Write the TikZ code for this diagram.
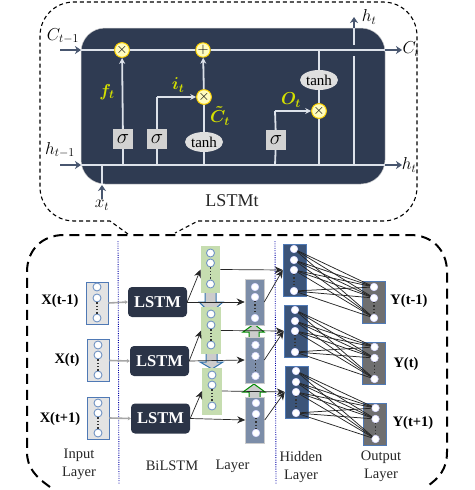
\documentclass[tikz,border=0pt]{standalone}
\usepackage{fontspec}
\setmainfont{Liberation Serif}
\usetikzlibrary{arrows.meta,shapes.geometric}
\definecolor{panel}{HTML}{2F3B52}
\definecolor{wire}{HTML}{DDE2EA}
\definecolor{inarrow}{HTML}{48566F}
\definecolor{ylab}{HTML}{D4E000}
\definecolor{lstmc}{HTML}{2B3447}
\definecolor{bluebd}{HTML}{4F79B5}
\definecolor{fwdc}{HTML}{C6DDB0}
\definecolor{bwdc}{HTML}{7C8DA8}
\definecolor{hidc}{HTML}{3B5479}
\definecolor{outc}{HTML}{6F6F70}
\tikzset{
 wl/.style={draw=wire,line width=1.8pt},
 wa/.style={wl,-{Stealth[length=6pt,width=6pt]}},
 ina/.style={draw=inarrow,line width=2.2pt,-{Stealth[length=6pt,width=8pt]}},
 oper/.style={circle,draw=yellow!70!orange,line width=1pt,fill=yellow!25,minimum size=14pt,inner sep=0pt,font=\fontsize{14}{14}\selectfont},
 sig/.style={draw=none,fill=gray!35,minimum size=20pt,inner sep=0pt,font=\fontsize{20}{20}\selectfont},
 tanhn/.style={ellipse,fill=gray!25,draw=none,minimum width=38pt,minimum height=20pt,inner sep=0pt,font=\fontsize{15}{15}\selectfont},
 mlab/.style={font=\fontsize{18.5}{18.5}\selectfont,inner sep=0pt},
 ylabn/.style={font=\fontsize{18}{18}\selectfont\boldmath,inner sep=0pt,text=ylab},
 capn/.style={font=\fontsize{14.5}{18}\selectfont,inner sep=0pt,align=center,text=black!85},
 blab/.style={font=\fontsize{14.5}{14.5}\selectfont\bfseries,inner sep=0pt},
 lstmn/.style={rounded corners=4pt,fill=lstmc,text=white,minimum width=59pt,minimum height=30pt,inner sep=0pt,font=\fontsize{16.5}{17}\selectfont\bfseries},
 inb/.style={draw=bluebd,line width=.9pt,fill=gray!22,minimum width=22pt,minimum height=42pt,inner sep=0pt},
 fwdb/.style={fill=fwdc,minimum width=19.5pt,minimum height=47pt,inner sep=0pt},
 bwdb/.style={fill=bwdc,draw=gray!40,line width=.5pt,minimum width=19pt,minimum height=46pt,inner sep=0pt},
 hidb/.style={fill=hidc,draw=bluebd,line width=.5pt,minimum width=23pt,minimum height=52pt,inner sep=0pt},
 outb/.style={fill=outc,draw=bluebd,line width=.9pt,minimum width=23pt,minimum height=42pt,inner sep=0pt},
 hol/.style={circle,draw=bluebd!80,line width=.9pt,fill=white,minimum size=8pt,inner sep=0pt},
 sol/.style={circle,draw=blue!15,line width=.6pt,fill=white,minimum size=7.5pt,inner sep=0pt},
 dotsl/.style={line width=1.3pt,dash pattern=on 1.3pt off 2pt,black!80},
 grayc/.style={draw=gray!70,line width=1.6pt,-{Stealth[length=3pt,width=4pt]}},
 bk/.style={draw=black!85,line width=.7pt,-{Stealth[length=8pt,width=7pt]}},
 meshl/.style={draw=black!85,line width=.75pt},
 sepl/.style={draw=blue!65!black,line width=.9pt,dash pattern=on 1pt off 1.3pt},
 bigdash/.style={draw=black,line width=2pt,dash pattern=on 10pt off 6pt},
 smalldash/.style={draw=black,line width=1.1pt,dash pattern=on 4pt off 3pt},
 downa/.style={fill=gray!40,draw=cyan!60!blue!80!black,line width=1pt},
 upa/.style={fill=gray!40,draw=green!55!black,line width=1pt},
}
\begin{document}
\begin{tikzpicture}[x=1pt,y=-1pt]
\useasboundingbox (0,0) rectangle (474,490);
% --- callout outlines
\draw[smalldash] (128,234) -- (110,221) -- (74,221) .. controls (55,221) and (40,206) .. (40,187) -- (40,36) .. controls (40,17) and (55,2) .. (74,2) -- (383,2) .. controls (402,2) and (417,17) .. (417,36) -- (417,187) .. controls (417,206) and (402,221) .. (383,221) -- (198,221) -- (175,233);
\draw[bigdash] (50,487) .. controls (36,477) and (27,468) .. (27,452) -- (27,272) .. controls (27,250) and (42,235) .. (64,235) -- (410,235) .. controls (432,235) and (447,250) .. (447,272) -- (447,452) .. controls (447,468) and (440,478) .. (426,487);
% --- LSTM cell
\node[fill=panel,draw=gray!35,line width=.5pt,rounded corners=24pt,minimum width=304pt,minimum height=156pt,inner sep=0pt] (cell) at (233,106) {};
\coordinate (cin) at (60,50); \coordinate (cl) at (81,50); \coordinate (cr) at (385,50); \coordinate (cout) at (402,50);
\coordinate (hin) at (60,165); \coordinate (hl) at (81,165); \coordinate (hr) at (385,165); \coordinate (hout) at (402,165);
\node[oper] (mf) at (122,50) {$\times$};
\node[oper] (pl) at (203,50) {$+$};
\node[oper] (mi) at (204,97) {$\times$};
\node[oper] (mo) at (319,111) {$\times$};
\node[sig] (s1) at (123,139) {$\sigma$};
\node[sig] (s2) at (157,139) {$\sigma$};
\node[sig] (s3) at (276,140) {$\sigma$};
\node[tanhn] (t1) at (204,142) {tanh};
\node[tanhn] (t2) at (319,80) {tanh};
\coordinate (h1) at (123,165); \coordinate (h2) at (157,165); \coordinate (h3) at (204,165);
\coordinate (h4) at (275,165); \coordinate (h5) at (319,165); \coordinate (h6) at (354,165);
\coordinate (c5) at (319,50); \coordinate (xb) at (102,184); \coordinate (xh) at (102,165);
\coordinate (xs) at (102,199); \coordinate (xe) at (102,185);
\coordinate (e2) at (157,97); \coordinate (e3) at (275,111);
\coordinate (ht1) at (354,56); \coordinate (ht2) at (354,45); \coordinate (ht4) at (354,28); \coordinate (ht3) at (354,17);
\draw[wl] (cl) -- (mf); \draw[wl] (mf) -- (pl); \draw[wl] (pl) -- (cr);
\draw[wl] (hl) -- (hr);
\draw[wl] (h1) -- (s1); \draw[wa] (s1) -- (mf);
\draw[wl] (h2) -- (s2); \draw[wl] (s2) -- (e2); \draw[wa] (e2) -- (mi);
\draw[wl] (h3) -- (t1); \draw[wl] (t1) -- (mi); \draw[wa] (mi) -- (pl);
\draw[wl] (h4) -- (s3); \draw[wl] (s3) -- (e3); \draw[wa] (e3) -- (mo);
\draw[wl] (c5) -- (t2); \draw[wl] (t2) -- (mo); \draw[wl] (mo) -- (h5);
\draw[wl] (h6) -- (ht1);
\draw[wl] (xh) -- (xb);
\draw[ina] (cin) -- (cl); \draw[ina] (hin) -- (hl); \draw[ina] (cr) -- (cout); \draw[ina] (hr) -- (hout);
\draw[ina] (xs) -- (xe);
\draw[wl] (ht2) -- (ht4); \draw[ina] (ht4) -- (ht3);
\node[mlab] (lc) at (63,36) {$C_{t-1}$};
\node[mlab] (lh) at (60,150) {$h_{t-1}$};
\node[mlab] (lx) at (102,205) {$x_t$};
\node[ylabn] (lf) at (107,92) {$f_t$};
\node[ylabn] (li) at (178,85) {$i_t$};
\node[ylabn] (lct) at (220,116) {$\tilde{C}_t$};
\node[ylabn] (lo) at (291,100) {$O_t$};
\node[mlab] (lht) at (369,17) {$h_t$};
\node[mlab] (lcr) at (411,49) {$C_t$};
\node[mlab] (lhr) at (409,165) {$h_t$};
\node[capn,font=\fontsize{18}{18}\selectfont] (ttl) at (232,201) {LSTMt};
% --- separators
\coordinate (sa1) at (118,241); \coordinate (sa2) at (119,484);
\coordinate (sb1) at (275,241); \coordinate (sb2) at (276,484);
\draw[sepl] (sa1) -- (sa2); \draw[sepl] (sb1) -- (sb2);
% --- hollow arrows between stacks
\draw[downa] (205,290) -- (205,302) -- (199,302) -- (210.5,313) -- (223,302) -- (216,302) -- (216,290);
\draw[downa] (206,352) -- (206,362) -- (200,362) -- (212,369) -- (223,362) -- (217,362) -- (217,352);
\draw[upa] (249,339) -- (249,332) -- (243,332) -- (254,324) -- (264,332) -- (259,332) -- (259,339);
\draw[upa] (249,399) -- (249,392) -- (243,392) -- (254,384) -- (265,392) -- (260,392) -- (260,399);
% --- stacks
\node[inb] (i1) at (97,303) {}; \node[inb] (i2) at (98,360.5) {}; \node[inb] (i3) at (98,418) {};
\node[fwdb] (f1) at (210.5,269.5) {}; \node[fwdb] (f2) at (211,330.5) {}; \node[fwdb] (f3) at (212,391) {};
\node[bwdb] (b1) at (254.5,302) {}; \node[bwdb] (b2) at (254.5,360) {}; \node[bwdb] (b3) at (255,420) {};
\node[hidb] (d1) at (294.5,270) {}; \node[hidb] (d2) at (295.5,331) {}; \node[hidb] (d3) at (296.5,392) {};
\node[outb] (o1) at (373.5,302) {}; \node[outb] (o2) at (374,363) {}; \node[outb] (o3) at (375,424) {};
\node[lstmn] (l1) at (157.5,302) {LSTM};
\node[lstmn] (l2) at (159.5,361) {LSTM};
\node[lstmn] (l3) at (160.5,418.5) {LSTM};
% circles of each stack: name / x / y1 / y2 / y3 / style
\foreach \n/\x/\a/\b/\c/\s in {
 i1/97/287/298/318/hol, i2/98/345/355/375/hol, i3/98/403/413/433/hol,
 f1/210.5/253/263/284/hol, f2/211/314/325/345/hol, f3/212/375/385/406/hol,
 b1/255/287/297/318/sol, b2/255.5/345/356/376/sol, b3/256/403/414/433/sol,
 o1/374/287/298/318/sol, o2/374.5/347/358/379/sol, o3/375.5/408/419/439/sol}{
 \node[\s] (\n a) at (\x,\a) {};
 \node[\s] (\n b) at (\x,\b) {};
 \node[\s] (\n c) at (\x,\c) {};
 \draw[dotsl] (\n b) -- (\n c);
}
\foreach \n/\x/\a/\b/\c/\d in {d1/294/249/260/270/291, d2/295/310/321/331/352, d3/296/371/382/392/413}{
 \node[sol] (\n a) at (\x,\a) {};
 \node[sol] (\n b) at (\x,\b) {};
 \node[sol] (\n c) at (\x,\c) {};
 \node[sol] (\n d) at (\x,\d) {};
 \draw[dotsl] (\n c) -- (\n d);
}
% --- connectors
\draw[grayc] (i1.east) -- (l1.west);
\draw[grayc] (i2.east) -- (l2.west);
\draw[grayc] (i3.east) -- (l3.west);
\foreach \k in {1,2,3}{
 \draw[bk] (l\k.east) -- (f\k.west);
 \draw[bk] (l\k.east) -- (b\k.west);
 \draw[bk] (f\k.east) -- (d\k.west);
 \draw[bk] (b\k.east) -- (d\k.west);
}
\foreach \k in {1,2,3}{
 \foreach \p in {a,b,c,d}{
  \foreach \q in {a,b,c}{
   \draw[meshl] (d\k\p) -- (o\k\q);
  }
 }
}
% --- labels
\node[blab] (x1) at (60,301) {X(t-1)};
\node[blab] (x2) at (67,360) {X(t)};
\node[blab] (x3) at (60,419) {X(t+1)};
\node[blab] (y1) at (409,301) {Y(t-1)};
\node[blab] (y2) at (406,364) {Y(t)};
\node[blab] (y3) at (413,423) {Y(t+1)};
\node[capn] (c1) at (79,464) {Input\\Layer};
\node[capn] (c2) at (172,466) {BiLSTM};
\node[capn] (c3) at (232.5,466) {Layer};
\node[capn] (c4) at (301,467) {Hidden\\Layer};
\node[capn] (c5n) at (381,466) {Output\\Layer};
\end{tikzpicture}
\end{document}
